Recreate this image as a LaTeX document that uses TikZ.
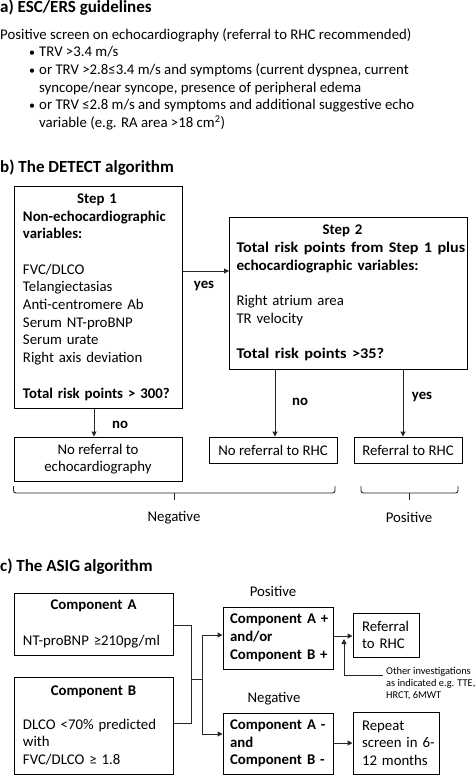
\documentclass[tikz,border=0pt]{standalone}
\usepackage{graphicx}
\usepackage{fontspec}
\setmainfont{Carlito}
\usetikzlibrary{arrows.meta,calc}
\newcommand{\fsmain}{\fontsize{14.8}{17.7}\selectfont}
\newcommand{\fstitle}{\fontsize{17}{20}\selectfont\bfseries}
\newcommand{\fssmall}{\fontsize{10.4}{12}\selectfont}
\tikzset{
  box/.style={draw=black, line width=1pt, inner ysep=0pt, inner xsep=9pt, align=left, font=\fsmain},
  cbox/.style={draw=black, line width=1pt, inner sep=0pt, align=center, font=\fsmain},
  arr/.style={draw=black!85, line width=1pt, -{Triangle[length=5pt,width=5pt]}},
  conn/.style={draw=black!85, line width=1pt},
  txt/.style={inner sep=0pt, anchor=base west, font=\fsmain},
  lbl/.style={inner sep=0pt, font=\fsmain\bfseries},
  ttl/.style={inner sep=0pt, anchor=base west, font=\fstitle},
  brc/.style={draw=black!85, line width=0.9pt, rounded corners=2.5pt}
}
\begin{document}
\begin{tikzpicture}[x=1pt,y=-1pt]
\useasboundingbox (0,0) rectangle (474,776);

% ---------- a) ----------
\node[ttl] (ta) at (0,12.5) {a) ESC/ERS guidelines};
\node[txt] (a1) at (0,39.5) {Positive screen on echocardiography (referral to RHC recommended)};
\node[txt, font=\fontsize{12}{14}\selectfont] (b1) at (29,56.5) {\textbullet};
\node[txt] (a2) at (39,56.5) {TRV >3.4 m/s};
\node[txt, font=\fontsize{12}{14}\selectfont] (b2) at (29,74.5) {\textbullet};
\node[txt] (a3) at (39,74.5) {or TRV >2.8≤3.4 m/s and symptoms (current dyspnea, current};
\node[txt] (a4) at (39,92.5) {syncope/near syncope, presence of peripheral edema};
\node[txt, font=\fontsize{12}{14}\selectfont] (b3) at (29,109.5) {\textbullet};
\node[txt] (a5) at (39,109.5) {or TRV ≤2.8 m/s and symptoms and additional suggestive echo};
\node[txt] (a6) at (39,127.5) {variable (e.g. RA area >18 cm\textsuperscript{2})};

% ---------- b) ----------
\node[ttl] (tb) at (0,172.7) {b) The DETECT algorithm};
\node[box, minimum width=168pt, minimum height=222pt, text width=150pt] (step1) at (98,297)
{\makebox[148pt][c]{\bfseries Step 1}\\
\textbf{Non-echocardiographic}\\
\textbf{variables:}\\[17.7pt]
FVC/DLCO\\
Telangiectasias\\
Anti-centromere Ab\\
Serum NT-proBNP\\
Serum urate\\
Right axis deviation\\[17.7pt]
\mbox{\textbf{Total risk points > 300?}}};

\node[box, inner xsep=7pt, minimum width=238pt, minimum height=152pt, text width=224pt] (step2) at (348.5,293)
{\makebox[212pt][c]{\bfseries Step 2}\\
\scalebox{1.09}[1]{\textbf{Total risk points from Step 1 plus}}\\
\scalebox{1.03}[1]{\textbf{echocardiographic variables:}}\\[17.7pt]
Right atrium area\\
TR velocity\\[17.7pt]
\scalebox{1.1}[1]{\textbf{Total risk points >35?}}};

\node[cbox, minimum width=168pt, minimum height=44pt] (noecho) at (98,459) {No referral to\\echocardiography};
\node[cbox, minimum width=128pt, minimum height=26pt] (norhc) at (273,450) {No referral to RHC};
\node[cbox, minimum width=108pt, minimum height=26pt] (rhc) at (408,450) {Referral to RHC};

\draw[arr] (step1.east |- 0,271) -- (step2.west |- 0,271);
\node[lbl] (yes1) at (204,286) {yes};
\draw[arr] (step1.south -| 94,0) -- (noecho.north -| 94,0);
\node[lbl] (no1) at (120,425) {no};
\draw[arr] (step2.south -| 275,0) -- (norhc.north -| 275,0);
\node[lbl] (no2) at (300,402) {no};
\draw[arr] (step2.south -| 403,0) -- (rhc.north -| 403,0);
\node[lbl] (yes2) at (422,397) {yes};

% braces
\draw[brc] (noecho.south west |- 0,486) |- (174,493);
\draw[brc] (335,486) |- (174,493);
\draw[brc] (174,493) -- (174,500);
\node[inner sep=0pt, font=\fsmain] (neg1) at (174,518) {Negative};
\draw[brc] (361,486) |- (409,493);
\draw[brc] (458,486) |- (409,493);
\draw[brc] (409,493) -- (409,500);
\node[inner sep=0pt, font=\fsmain] (pos1) at (409,517) {Positive};

% ---------- c) ----------
\node[ttl] (tc) at (0,571.7) {c) The ASIG algorithm};
\node[box, minimum width=159pt, minimum height=62pt, text width=141pt] (compA) at (93.5,624)
{\makebox[141pt][c]{\bfseries Component A}\\[17.7pt]
\mbox{NT-proBNP ≥210pg/ml}};
\node[box, minimum width=159pt, minimum height=97pt, text width=141pt] (compB) at (93.5,725.5)
{\makebox[141pt][c]{\bfseries Component B}\\[16pt]
\mbox{DLCO <70\% predicted}\\
with\\
\mbox{FVC/DLCO ≥ 1.8}};

\node[box, inner xsep=7pt, minimum width=110pt, minimum height=62pt, text width=96pt, font=\fsmain\bfseries] (cAp) at (278,638)
{\mbox{Component A +}\\ and/or\\ \mbox{Component B +}};
\node[box, minimum width=66pt, minimum height=44pt, text width=48pt] (ref) at (386,635)
{Referral\\ \mbox{to RHC}};
\node[box, inner xsep=7pt, minimum width=110pt, minimum height=61pt, text width=96pt, font=\fsmain\bfseries] (cAm) at (278,743.5)
{\mbox{Component A -}\\ and\\ \mbox{Component B -}};
\node[box, minimum width=86pt, minimum height=62pt, text width=68pt] (rep) at (396,743)
{Repeat\\ \mbox{screen in 6-}\\ \mbox{12 months}};

\node[inner sep=0pt, font=\fsmain] (pos2) at (273,591) {Positive};
\node[inner sep=0pt, font=\fsmain] (neg2) at (274,699) {Negative};

\coordinate (j1) at (191,679);
\coordinate (j2) at (202,679);
\draw[conn] (compA.east |- 0,625) -- (191,625) -- (191,723) -- (compB.east |- 0,723);
\draw[conn] (j1) -- (j2);
\draw[arr] (j2) |- (cAp.west |- 0,635);
\draw[arr] (j2) |- (cAm.west |- 0,734);
\draw[arr] (cAp.east |- 0,636) -- (ref.west |- 0,636);
\draw[arr] (cAm.east |- 0,743) -- (rep.west |- 0,743);

\node[inner sep=0pt, anchor=north west, align=left, font=\fssmall] (ann) at (386,667)
{Other investigations\\ as indicated e.g. TTE,\\ HRCT, 6MWT};
\coordinate (annp) at (383,675);
\draw[arr] (annp) -- (344,675) -- (344,639);
\end{tikzpicture}
\end{document}
